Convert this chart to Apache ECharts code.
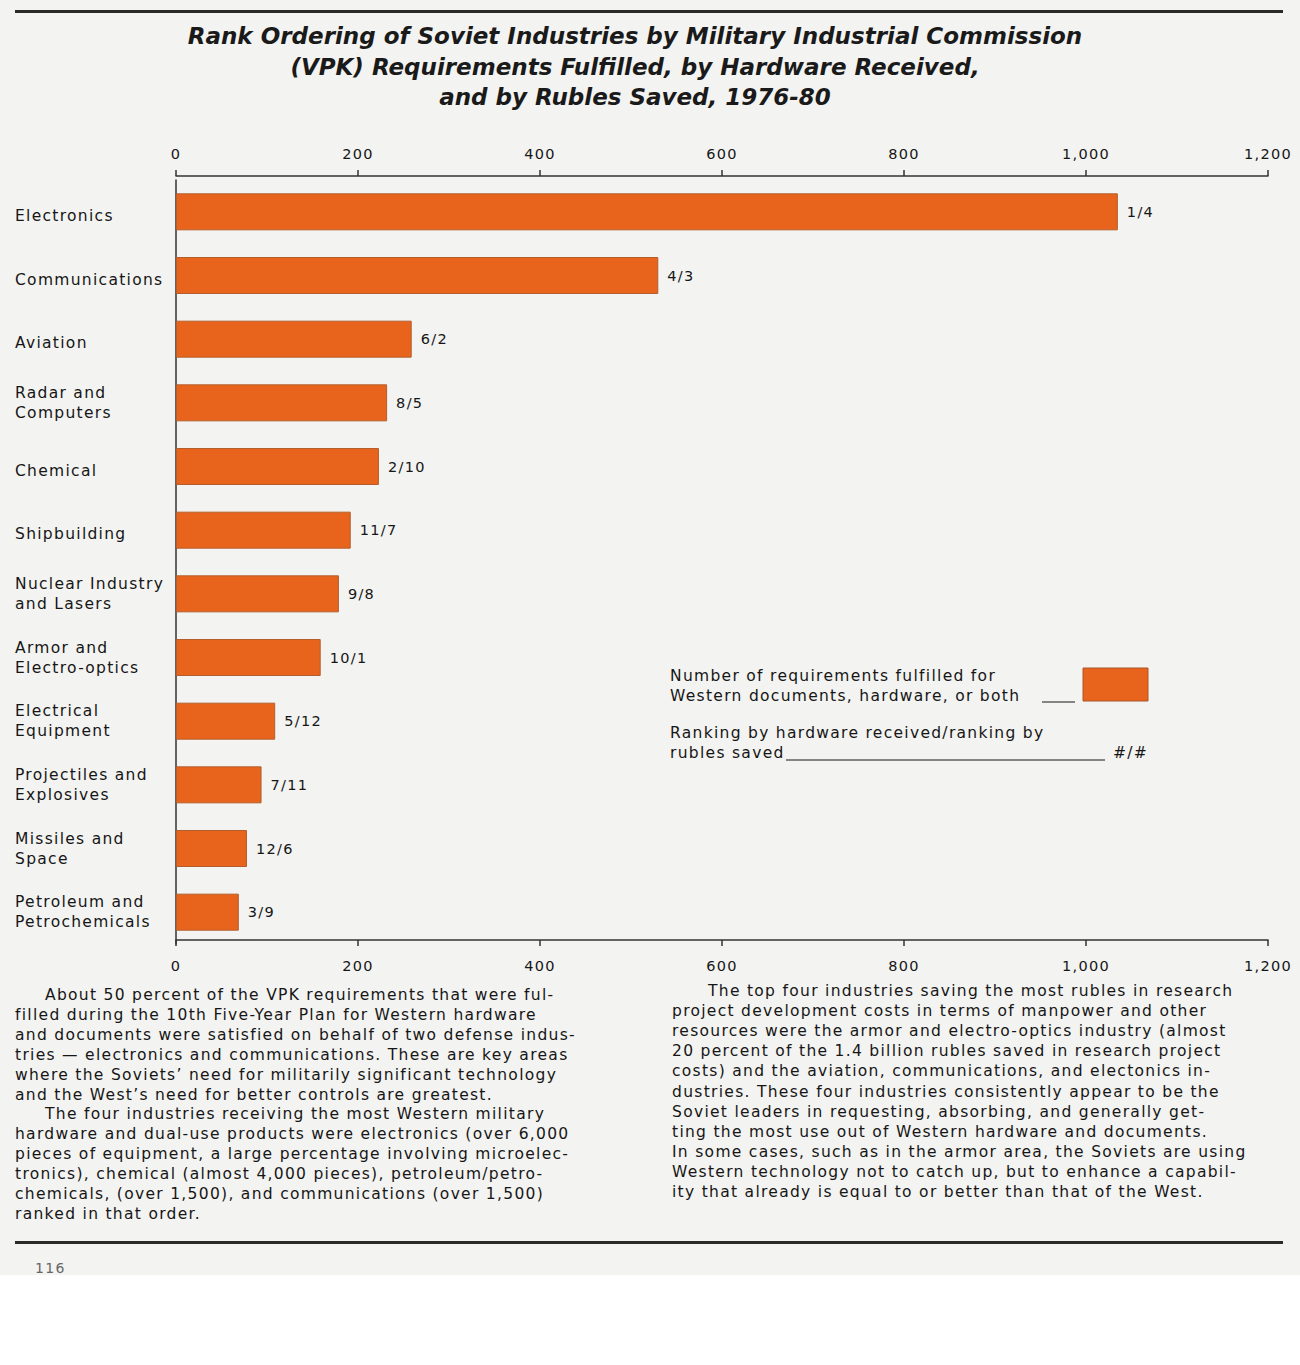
<!DOCTYPE html>
<html>
<head>
<meta charset="utf-8">
<script src="https://cdn.jsdelivr.net/npm/echarts@6/dist/echarts.min.js"></script>
<style>
html,body{margin:0;padding:0;background:#f3f3f1;}
#c{width:1300px;height:1365px;}
#c text{letter-spacing:1.3px;}
#c text[style*="italic"]{letter-spacing:0;}
</style>
</head>
<body>
<div id="c"></div>
<script>
const categories = ['Electronics','Communications','Aviation','Radar and\nComputers','Chemical','Shipbuilding','Nuclear Industry\nand Lasers','Armor and\nElectro-optics','Electrical\nEquipment','Projectiles and\nExplosives','Missiles and\nSpace','Petroleum and\nPetrochemicals'];
const requirements = [1035, 530, 259, 232, 223, 192, 179, 159, 109, 94, 78, 69];
const rankLabels = ['1/4','4/3','6/2','8/5','2/10','11/7','9/8','10/1','5/12','7/11','12/6','3/9'];
const axisMin = 0, axisMax = 1200, axisStep = 200;
const titleLines = ['Rank Ordering of Soviet Industries by Military Industrial Commission','(VPK) Requirements Fulfilled, by Hardware Received,','and by Rubles Saved, 1976-80'];
const legendText1 = ['Number of requirements fulfilled for','Western documents, hardware, or both'];
const legendText2 = ['Ranking by hardware received/ranking by','rubles saved'];
const legendMark = '#/#';
const leftColumn = [
  'About 50 percent of the VPK requirements that were ful-',
  'filled during the 10th Five-Year Plan for Western hardware',
  'and documents were satisfied on behalf of two defense indus-',
  'tries \u2014 electronics and communications. These are key areas',
  'where the Soviets\u2019 need for militarily significant technology',
  'and the West\u2019s need for better controls are greatest.',
  'The four industries receiving the most Western military',
  'hardware and dual-use products were electronics (over 6,000',
  'pieces of equipment, a large percentage involving microelec-',
  'tronics), chemical (almost 4,000 pieces), petroleum/petro-',
  'chemicals, (over 1,500), and communications (over 1,500)',
  'ranked in that order.'
];
const leftIndented = [0, 6];
const rightColumn = [
  'The top four industries saving the most rubles in research',
  'project development costs in terms of manpower and other',
  'resources were the armor and electro-optics industry (almost',
  '20 percent of the 1.4 billion rubles saved in research project',
  'costs) and the aviation, communications, and electonics in-',
  'dustries. These four industries consistently appear to be the',
  'Soviet leaders in requesting, absorbing, and generally get-',
  'ting the most use out of Western hardware and documents.',
  'In some cases, such as in the armor area, the Soviets are using',
  'Western technology not to catch up, but to enhance a capabil-',
  'ity that already is equal to or better than that of the West.'
];
const rightIndented = [0];
const pageNumber = '116';

const FONT = '"DejaVu Sans", sans-serif';
const INK = '#161616';
const ORANGE = '#e8631c';

const chart = echarts.init(document.getElementById('c'), null, {renderer: 'svg'});

const fmt = v => v.toLocaleString('en-US');

const xAxisCommon = {
  type: 'value', min: axisMin, max: axisMax, interval: axisStep,
  splitLine: {show: false},
  axisLine: {show: true, lineStyle: {color: '#333', width: 1.5}},
  axisTick: {show: true, length: 6, lineStyle: {color: '#333', width: 1.5}},
  axisLabel: {formatter: fmt, fontFamily: FONT, fontSize: 14.5, color: INK}
};

const graphics = [];
graphics.push({type: 'rect', shape: {x: 15, y: 10, width: 1268, height: 3}, style: {fill: '#2a2a2a'}, silent: true});
graphics.push({type: 'rect', shape: {x: 15, y: 1241, width: 1268, height: 3}, style: {fill: '#2a2a2a'}, silent: true});
// legend
legendText1.forEach((t, i) => graphics.push({type: 'text', x: 670, y: 676 + i * 19.5, style: {text: t, font: '15.5px ' + FONT, fill: INK, verticalAlign: 'middle'}}));
graphics.push({type: 'line', shape: {x1: 1042, y1: 702, x2: 1075, y2: 702}, style: {stroke: INK, lineWidth: 1}});
graphics.push({type: 'rect', shape: {x: 1083, y: 668, width: 65, height: 33}, style: {fill: ORANGE, stroke: '#a8572a', lineWidth: 1}});
legendText2.forEach((t, i) => graphics.push({type: 'text', x: 670, y: 733 + i * 20, style: {text: t, font: '15.5px ' + FONT, fill: INK, verticalAlign: 'middle'}}));
graphics.push({type: 'line', shape: {x1: 786, y1: 760, x2: 1105, y2: 760}, style: {stroke: INK, lineWidth: 1}});
graphics.push({type: 'text', x: 1148, y: 753, style: {text: legendMark, font: '15.5px ' + FONT, fill: INK, verticalAlign: 'middle', align: 'right'}});
// paragraphs
leftColumn.forEach((t, i) => graphics.push({type: 'text', x: leftIndented.includes(i) ? 45 : 15, y: 995 + i * 19.9, style: {text: t, font: '15.5px ' + FONT, fill: INK, verticalAlign: 'middle'}}));
rightColumn.forEach((t, i) => graphics.push({type: 'text', x: rightIndented.includes(i) ? 708 : 672, y: 991 + i * 20.1, style: {text: t, font: '15.5px ' + FONT, fill: INK, verticalAlign: 'middle'}}));
graphics.push({type: 'text', x: 35, y: 1268, style: {text: pageNumber, font: '14px ' + FONT, fill: '#666', verticalAlign: 'middle'}});
graphics.push({type: 'rect', shape: {x: 0, y: 1275, width: 1300, height: 90}, style: {fill: '#ffffff'}, z: 100});

chart.setOption({
  backgroundColor: '#f3f3f1',
  animation: false,
  title: {
    text: titleLines.join('\n'),
    left: 630, top: 16, textAlign: 'center',
    textStyle: {fontFamily: FONT, fontStyle: 'italic', fontWeight: 'bold', fontSize: 23, lineHeight: 30.5, color: '#1a1a1a'}
  },
  grid: {left: 176, top: 180, width: 1092, height: 764, containLabel: false},
  xAxis: [
    Object.assign({}, xAxisCommon, {position: 'top', offset: 4, axisLabel: Object.assign({}, xAxisCommon.axisLabel, {margin: 15})}),
    Object.assign({}, xAxisCommon, {position: 'bottom', offset: -4, axisLabel: Object.assign({}, xAxisCommon.axisLabel, {margin: 18})})
  ],
  yAxis: {
    type: 'category', data: categories, inverse: true,
    axisLine: {show: true, lineStyle: {color: '#333', width: 1.5}},
    axisTick: {show: false},
    axisLabel: {
      align: 'left', margin: 161, fontFamily: FONT, fontSize: 15.5, lineHeight: 20, color: INK,
      formatter: v => v.indexOf('\n') < 0 ? '{one|' + v + '}' : v,
      rich: {one: {fontFamily: FONT, fontSize: 15.5, color: INK, padding: [8, 0, 0, 0]}}
    }
  },
  series: [{
    type: 'bar', xAxisIndex: 0, data: requirements, barWidth: 37,
    itemStyle: {color: ORANGE, borderColor: '#b35e2c', borderWidth: 1},
    label: {show: true, position: 'right', distance: 9, formatter: p => rankLabels[p.dataIndex], fontFamily: FONT, fontSize: 14.5, color: INK, padding: [4, 0, 0, 0]}
  }],
  graphic: graphics
});
</script>
</body>
</html>
